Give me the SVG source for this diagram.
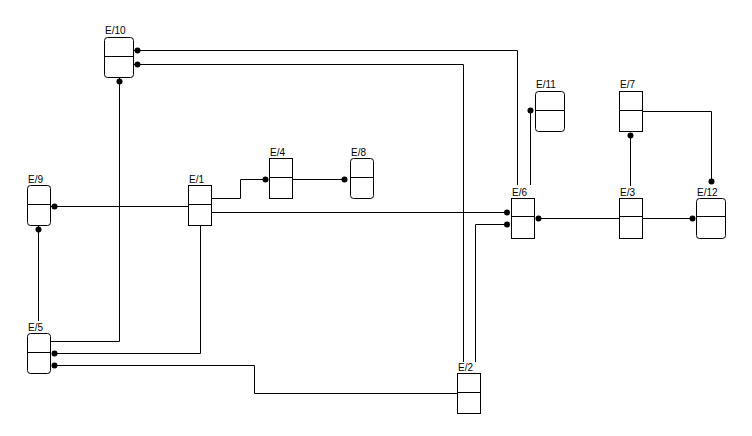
<svg xmlns="http://www.w3.org/2000/svg" width="752" height="436" viewBox="0 0 752 436">
<style>
.bx{fill:#fff;stroke:#000;stroke-width:1}
.dv{stroke:#000;stroke-width:1}
.lb{font-family:"Liberation Sans",Arial,sans-serif;font-size:10px;fill:#000}
.ln{fill:none;stroke:#000;stroke-width:1}
.dt{fill:#000}
</style>
<rect width="752" height="436" fill="#fff"/>
<g id="connectors">
<polyline class="ln" points="134,50.5 517.5,50.5 517.5,185"/>
<polyline class="ln" points="134,64.5 463.5,64.5 463.5,362"/>
<polyline class="ln" points="119.5,78 119.5,341.5 50.5,341.5"/>
<polyline class="ln" points="51,206.5 188.5,206.5"/>
<polyline class="ln" points="38.5,226 38.5,321"/>
<polyline class="ln" points="211.5,198.5 240.5,198.5 240.5,179.5 265.5,179.5"/>
<polyline class="ln" points="292.5,179.5 344.5,179.5"/>
<polyline class="ln" points="211.5,212.5 506.5,212.5"/>
<polyline class="ln" points="200.5,225.5 200.5,353.5 54.5,353.5"/>
<polyline class="ln" points="54.5,365.5 254.5,365.5 254.5,393.5 457.5,393.5"/>
<polyline class="ln" points="475.5,362 475.5,224.5 506.5,224.5"/>
<polyline class="ln" points="530.5,185 530.5,110.5"/>
<polyline class="ln" points="538.5,218.5 619.5,218.5"/>
<polyline class="ln" points="642.5,218.5 692.5,218.5"/>
<polyline class="ln" points="630.5,135.5 630.5,186"/>
<polyline class="ln" points="642.5,111.5 711.5,111.5 711.5,181.5"/>
<circle class="dt" cx="137.5" cy="50.5" r="3"/>
<circle class="dt" cx="137.5" cy="64.5" r="3"/>
<circle class="dt" cx="119.5" cy="81.5" r="3"/>
<circle class="dt" cx="54.5" cy="206.5" r="3"/>
<circle class="dt" cx="38.5" cy="229.5" r="3"/>
<circle class="dt" cx="265.5" cy="179.5" r="3"/>
<circle class="dt" cx="344.5" cy="179.5" r="3"/>
<circle class="dt" cx="54.5" cy="353.5" r="3"/>
<circle class="dt" cx="54.5" cy="365.5" r="3"/>
<circle class="dt" cx="507" cy="212.5" r="3"/>
<circle class="dt" cx="507" cy="224.5" r="3"/>
<circle class="dt" cx="530.5" cy="110.5" r="3"/>
<circle class="dt" cx="538.5" cy="218.5" r="3"/>
<circle class="dt" cx="692.5" cy="218.5" r="3"/>
<circle class="dt" cx="630.5" cy="135.5" r="3"/>
<circle class="dt" cx="711.5" cy="181.5" r="3"/>
</g>
<g id="E10"><rect class="bx" x="104.5" y="37.5" width="29" height="40" rx="3"/><line class="dv" x1="104.5" y1="56.5" x2="133.5" y2="56.5"/><text class="lb" x="105" y="34">E/10</text></g>
<g id="E9"><rect class="bx" x="27.5" y="185.5" width="23" height="40" rx="3"/><line class="dv" x1="27.5" y1="204.5" x2="50.5" y2="204.5"/><text class="lb" x="28" y="183">E/9</text></g>
<g id="E1"><rect class="bx" x="188.5" y="185.5" width="23" height="40"/><line class="dv" x1="188.5" y1="204.5" x2="211.5" y2="204.5"/><text class="lb" x="189" y="183">E/1</text></g>
<g id="E4"><rect class="bx" x="269.5" y="158.5" width="23" height="40"/><line class="dv" x1="269.5" y1="177.5" x2="292.5" y2="177.5"/><text class="lb" x="270" y="155.5">E/4</text></g>
<g id="E8"><rect class="bx" x="350.5" y="158.5" width="23" height="40" rx="3"/><line class="dv" x1="350.5" y1="177.5" x2="373.5" y2="177.5"/><text class="lb" x="351" y="155.5">E/8</text></g>
<g id="E5"><rect class="bx" x="27.5" y="333.5" width="23" height="40" rx="3"/><line class="dv" x1="27.5" y1="352.5" x2="50.5" y2="352.5"/><text class="lb" x="28" y="330.5">E/5</text></g>
<g id="E2"><rect class="bx" x="457.5" y="373.5" width="23" height="40"/><line class="dv" x1="457.5" y1="392.5" x2="480.5" y2="392.5"/><text class="lb" x="458" y="371">E/2</text></g>
<g id="E6"><rect class="bx" x="511.5" y="198.5" width="23" height="40"/><line class="dv" x1="511.5" y1="216.5" x2="534.5" y2="216.5"/><text class="lb" x="512" y="196">E/6</text></g>
<g id="E11"><rect class="bx" x="535.5" y="91.5" width="29" height="40" rx="3"/><line class="dv" x1="535.5" y1="110.5" x2="564.5" y2="110.5"/><text class="lb" x="536" y="88">E/11</text></g>
<g id="E7"><rect class="bx" x="619.5" y="91.5" width="23" height="40"/><line class="dv" x1="619.5" y1="110.5" x2="642.5" y2="110.5"/><text class="lb" x="620" y="88">E/7</text></g>
<g id="E3"><rect class="bx" x="619.5" y="198.5" width="23" height="40"/><line class="dv" x1="619.5" y1="216.5" x2="642.5" y2="216.5"/><text class="lb" x="620" y="196">E/3</text></g>
<g id="E12"><rect class="bx" x="696.5" y="198.5" width="29" height="40" rx="3"/><line class="dv" x1="696.5" y1="216.5" x2="725.5" y2="216.5"/><text class="lb" x="697" y="196">E/12</text></g>
</svg>
